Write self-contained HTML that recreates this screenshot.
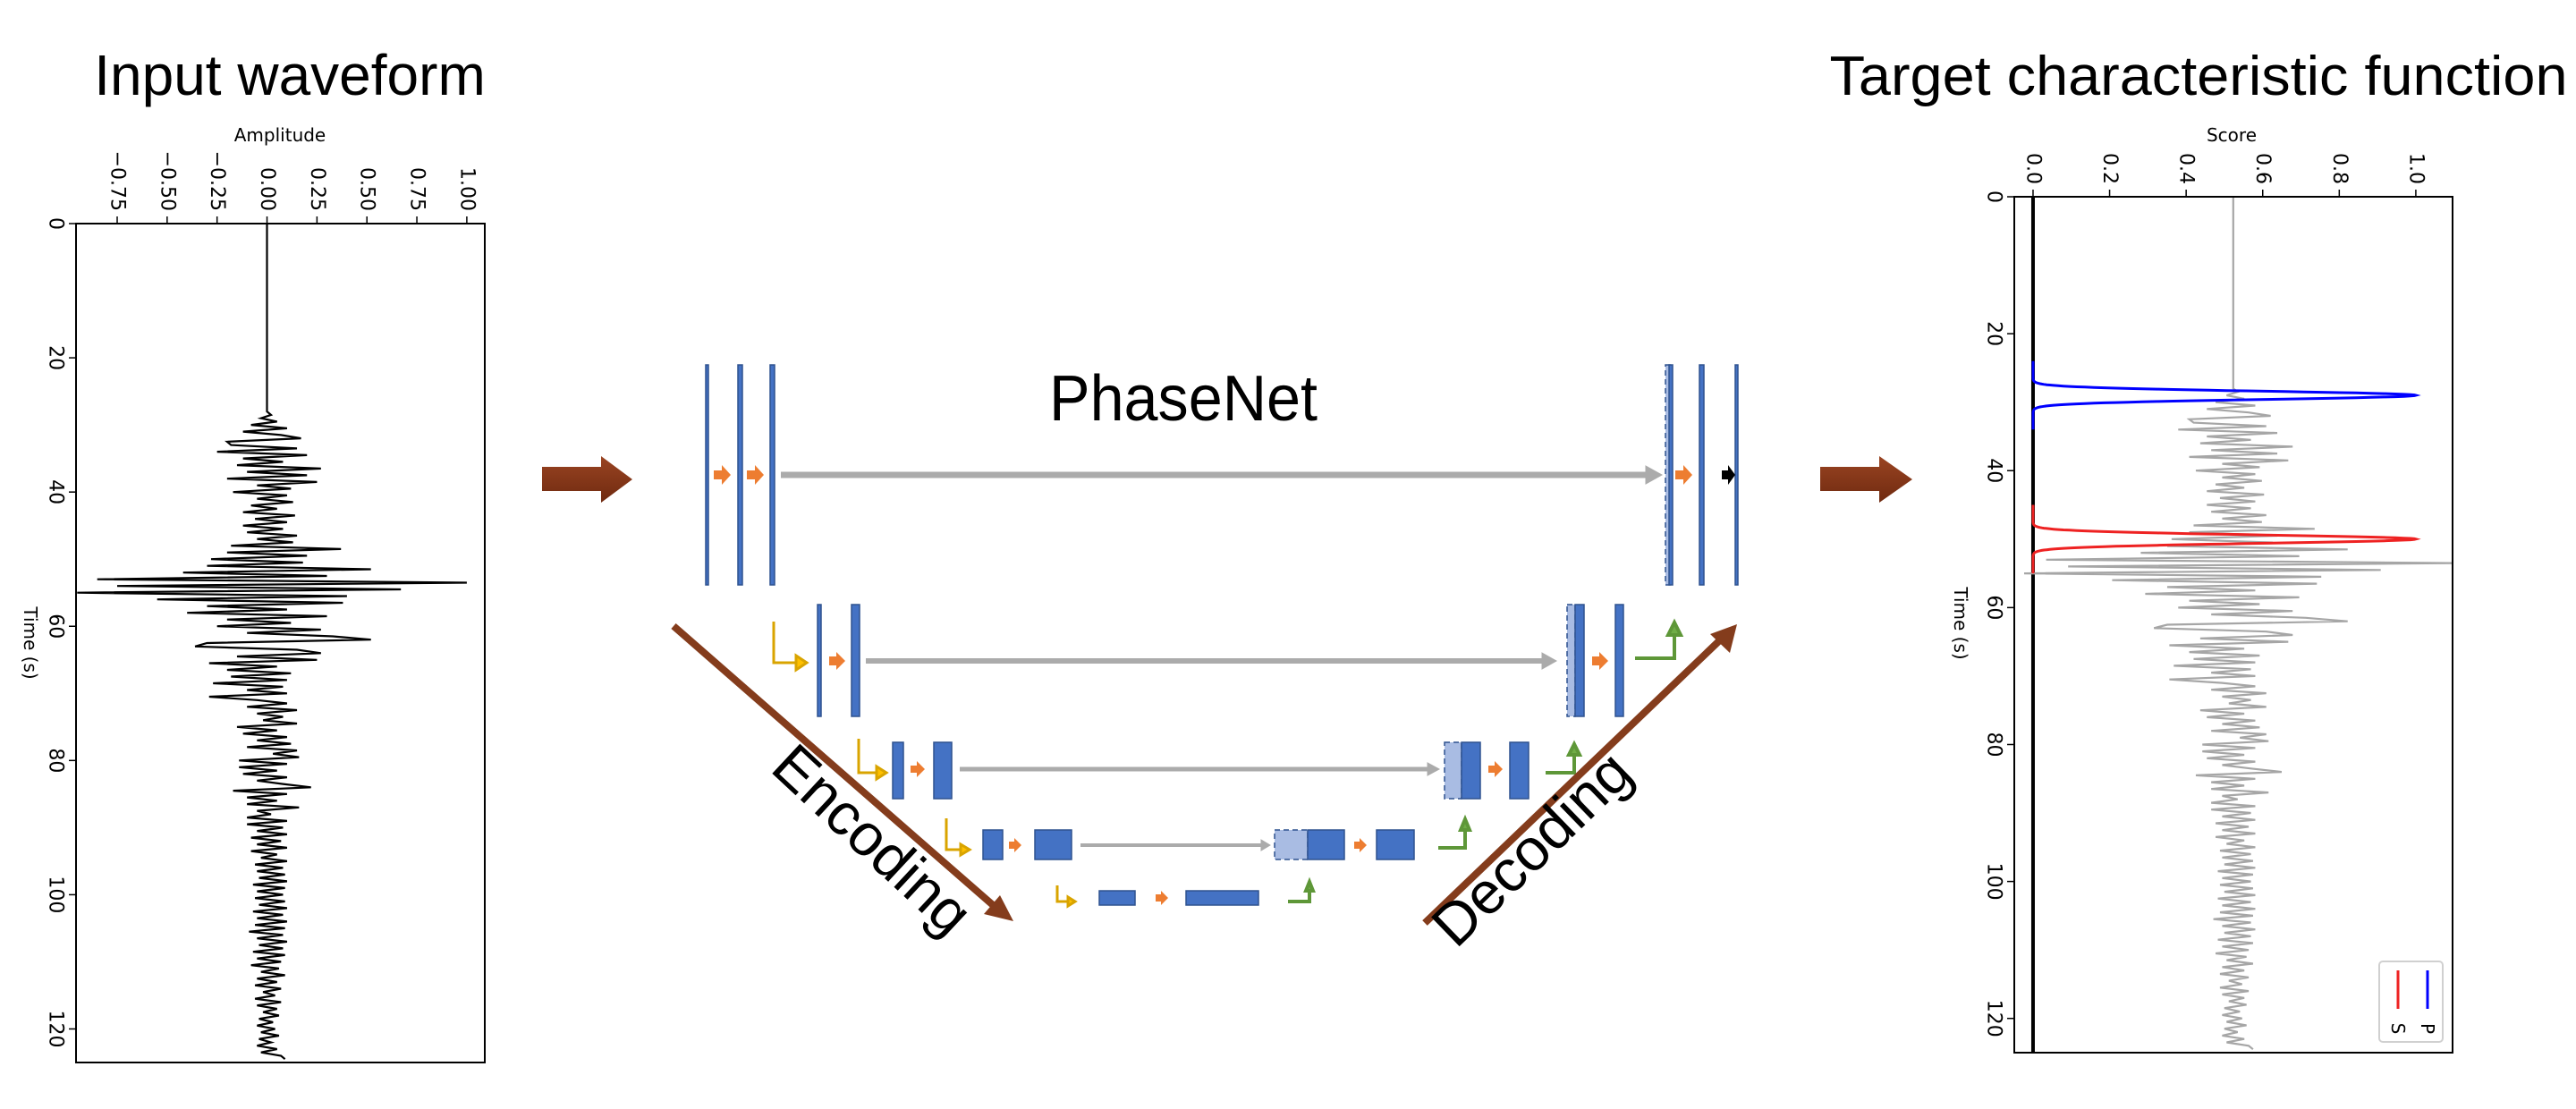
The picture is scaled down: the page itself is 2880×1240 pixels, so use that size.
<!DOCTYPE html>
<html><head><meta charset="utf-8"><style>
html,body{margin:0;padding:0;background:#fff}
svg{display:block}
text{font-family:"DejaVu Sans","Liberation Sans",sans-serif}
.t{font-family:"Liberation Sans",sans-serif}
</style></head><body>
<svg id="fig" width="2880" height="1240" viewBox="0 0 2880 1240" xmlns="http://www.w3.org/2000/svg">
<defs>
<linearGradient id="brown" x1="0" y1="0" x2="0" y2="1"><stop offset="0" stop-color="#9a4422"/><stop offset="1" stop-color="#6f2a10"/></linearGradient>
<clipPath id="clipL"><rect x="85" y="250" width="457" height="938"/></clipPath>
<clipPath id="clipR"><rect x="2252" y="220" width="490" height="957"/></clipPath>
</defs>

<text class="t" x="324" y="106" font-size="64" text-anchor="middle">Input waveform</text>
<text class="t" x="2458" y="106" font-size="62" text-anchor="middle" textLength="825" lengthAdjust="spacingAndGlyphs">Target characteristic function</text>

<g id="leftPlot"></g>
<g id="rightPlot"></g>

<!-- Big brown arrows -->
<polygon points="606,522 672,522 672,510 707,536 672,562 672,549 606,549" fill="url(#brown)"/>
<polygon points="2035,522 2101,522 2101,510 2138,536 2101,562 2101,549 2035,549" fill="url(#brown)"/>

<g id="unet">
<text class="t" x="1323" y="470" font-size="72" text-anchor="middle" textLength="300" lengthAdjust="spacingAndGlyphs">PhaseNet</text>
<!-- level 1 -->
<g fill="#4472C4" stroke="#2F528F" stroke-width="1.5">
<rect x="789" y="408" width="3" height="246"/>
<rect x="825" y="408" width="5" height="246"/>
<rect x="861" y="408" width="5" height="246"/>
<rect x="1862" y="408" width="5" height="246" fill="#A9BCE3" stroke-dasharray="6,4"/>
<rect x="1866" y="408" width="4" height="246"/>
<rect x="1900" y="408" width="5" height="246"/>
<rect x="1940" y="408" width="3" height="246"/>
</g>
<g fill="#4472C4" stroke="#2F528F" stroke-width="1.5">
<rect x="914" y="676" width="4" height="125"/>
<rect x="952" y="676" width="9" height="125"/>
<rect x="1752" y="676" width="9" height="125" fill="#A9BCE3" stroke-dasharray="6,4"/>
<rect x="1761" y="676" width="10" height="125"/>
<rect x="1806" y="676" width="9" height="125"/>
</g>
<g fill="#4472C4" stroke="#2F528F" stroke-width="1.5">
<rect x="998" y="830" width="12" height="63"/>
<rect x="1044" y="830" width="20" height="63"/>
<rect x="1615" y="830" width="19" height="63" fill="#A9BCE3" stroke-dasharray="6,4"/>
<rect x="1634" y="830" width="21" height="63"/>
<rect x="1688" y="830" width="21" height="63"/>
</g>
<g fill="#4472C4" stroke="#2F528F" stroke-width="1.5">
<rect x="1099" y="928" width="22" height="33"/>
<rect x="1157" y="928" width="41" height="33"/>
<rect x="1425" y="928" width="37" height="33" fill="#A9BCE3" stroke-dasharray="6,4"/>
<rect x="1462" y="928" width="41" height="33"/>
<rect x="1539" y="928" width="42" height="33"/>
</g>
<g fill="#4472C4" stroke="#2F528F" stroke-width="1.5">
<rect x="1229" y="996" width="40" height="16"/>
<rect x="1326" y="996" width="81" height="16"/>
</g>
<!-- skip connections -->
<g stroke="#ABABAB" fill="#ABABAB">
<line x1="873" y1="531" x2="1843" y2="531" stroke-width="7"/><polygon points="1840,521 1858,531 1840,541"/>
<line x1="968" y1="739" x2="1727" y2="739" stroke-width="6"/><polygon points="1724,730 1740,739 1724,748"/>
<line x1="1073" y1="860" x2="1598" y2="860" stroke-width="5"/><polygon points="1596,853 1609,860 1596,867"/>
<line x1="1208" y1="945" x2="1412" y2="945" stroke-width="4"/><polygon points="1410,939 1420,945 1410,951"/>
</g>
<!-- orange conv arrows -->
<g fill="#ED7D31">
<polygon points="798,526 807,526 807,520 817,531 807,542 807,536 798,536"/>
<polygon points="835,526 844,526 844,520 854,531 844,542 844,536 835,536"/>
<polygon points="1873,526 1882,526 1882,520 1892,531 1882,542 1882,536 1873,536"/>
<polygon points="927,734 935,734 935,729 945,739 935,749 935,744 927,744"/>
<polygon points="1780,734 1788,734 1788,729 1798,739 1788,749 1788,744 1780,744"/>
<polygon points="1018,856 1025,856 1025,851 1034,860 1025,869 1025,864 1018,864"/>
<polygon points="1664,856 1671,856 1671,851 1680,860 1671,869 1671,864 1664,864"/>
<polygon points="1128,941 1134,941 1134,937 1142,945 1134,953 1134,949 1128,949"/>
<polygon points="1514,941 1520,941 1520,937 1528,945 1520,953 1520,949 1514,949"/>
<polygon points="1292,1000 1298,1000 1298,996 1306,1004 1298,1012 1298,1008 1292,1008"/>
</g>
<polygon points="1925,526 1932,526 1932,520 1940,531 1932,542 1932,536 1925,536" fill="#000"/>
<!-- yellow downsample arrows -->
<g fill="none" stroke="#D9A400" stroke-width="3">
<polyline points="865,695 865,741 892,741"/><polygon points="890,733 902,741 890,749" fill="#FFC000"/>
<polyline points="960,826 960,864 982,864"/><polygon points="980,857 991,864 980,871" fill="#FFC000"/>
<polyline points="1058,915 1058,950 1076,950"/><polygon points="1074,944 1084,950 1074,956" fill="#FFC000"/>
<polyline points="1182,990 1182,1008 1196,1008"/><polygon points="1194,1003 1202,1008 1194,1013" fill="#FFC000"/>
</g>
<!-- green upsample arrows -->
<g fill="none" stroke="#5E9738" stroke-width="4">
<polyline points="1828,736 1872,736 1872,708"/><polygon points="1865,710 1872,696 1879,710" fill="#70AD47"/>
<polyline points="1728,864 1760,864 1760,842"/><polygon points="1754,844 1760,832 1766,844" fill="#70AD47"/>
<polyline points="1608,948 1638,948 1638,926"/><polygon points="1633,928 1638,916 1643,928" fill="#70AD47"/>
<polyline points="1440,1008 1464,1008 1464,994"/><polygon points="1460,996 1464,986 1468,996" fill="#70AD47"/>
</g>
<!-- encoding/decoding arrows -->
<line x1="753" y1="700" x2="1117" y2="1018" stroke="#843C1C" stroke-width="8"/>
<polygon points="1133,1030 1100,1022 1118,1001" fill="#843C1C"/>
<line x1="1593" y1="1032" x2="1930" y2="709" stroke="#843C1C" stroke-width="8"/>
<polygon points="1942,698 1934,730 1912,709" fill="#843C1C"/>
<text class="t" x="0" y="0" font-size="66" text-anchor="middle" transform="translate(960,955) rotate(43)">Encoding</text>
<text class="t" x="0" y="0" font-size="66" text-anchor="middle" transform="translate(1728,965) rotate(-44)">Decoding</text>
</g>

<script>
// ---- data ----
const flatEnd = 28;
const sampleStart = 28;
const sampleDt = 0.5;
const amplitudes = [
0,0.02,-0.03,0.05,
-0.08,0.1,-0.12,0.07,0.17,-0.2,
-0.18,0.15,-0.25,0.2,-0.12,0.08,
-0.15,0.27,-0.1,0.2,-0.2,0.25,-0.05,0.12,
-0.17,0.1,-0.05,0.13,-0.08,0.05,-0.12,0.14,
-0.06,0.1,-0.12,0.08,-0.1,0.15,-0.05,0.13,
-0.18,0.37,-0.2,0.2,-0.28,0.18,-0.3,0.52,
-0.42,0.3,-0.85,1.0,-0.75,0.67,-0.95,0.4,
-0.55,0.38,-0.3,0.1,-0.4,0.3,-0.2,0.12,
-0.25,0.27,-0.1,0.33,0.52,-0.3,-0.36,0.15,0.27,-0.15,
0.25,-0.29,0.05,-0.2,0.12,-0.18,0.1,-0.27,0.08,-0.1,
0.1,-0.29,-0.05,0.1,-0.1,0.15,-0.05,0.08,-0.02,0.15,
-0.15,0.05,-0.12,0.1,-0.05,0.12,-0.1,0.15,0.03,0.16,
-0.14,0.1,-0.14,0.05,-0.12,0.1,-0.05,0.08,0.22,-0.17,
0.1,-0.1,0.05,-0.1,0.16,-0.05,0.02,-0.1,0.1,-0.1,
0.08,-0.05,0.1,-0.08,0.07,-0.05,0.1,-0.08,0.05,-0.03,
0.1,-0.06,0.08,-0.05,0.09,-0.04,0.1,-0.07,0.09,-0.05,
0.08,-0.06,0.09,-0.04,0.1,-0.07,0.08,-0.05,0.1,-0.06,
0.09,-0.09,0.08,-0.05,0.1,-0.04,0.08,-0.07,0.09,-0.05,
0.07,-0.08,0.06,-0.03,0.09,-0.05,0.05,-0.06,0.07,-0.02,
0.04,-0.06,0.07,-0.05,0.05,-0.02,0.06,-0.04,0.03,-0.05,
0.04,-0.03,0.06,-0.04,0.02,-0.05,0.05,-0.03,0.07,0.09
];
const timeTicks = [0,20,40,60,80,100,120];
const ampTicks = [-0.75,-0.5,-0.25,0,0.25,0.5,0.75,1.0];
const ampTickLabels = ["\u22120.75","\u22120.50","\u22120.25","0.00","0.25","0.50","0.75","1.00"];
const scoreTicks = [0,0.2,0.4,0.6,0.8,1.0];
const scoreTickLabels = ["0.0","0.2","0.4","0.6","0.8","1.0"];
const pickNames = ["P","S"];
const pickTimes = [29, 50];
const pickSigma = [0.6, 0.6];
const pickColors = ["#0000ff","#ee2222"];
const grayOffset = 0.523;
const grayScale = 0.575;

const NS="http://www.w3.org/2000/svg";
function mk(tag, attrs, parent){const e=document.createElementNS(NS,tag);for(const k in attrs)e.setAttribute(k,attrs[k]);parent.appendChild(e);return e;}

// axes
const L={x0:85,x1:542,y0:250,y1:1188,tmin:0,tmax:125,amin:-0.956,amax:1.09};
const R={x0:2252,x1:2742,y0:220,y1:1177,tmin:0,tmax:125,smin:-0.049,smax:1.096};
function lty(t){return L.y0+(t-L.tmin)/(L.tmax-L.tmin)*(L.y1-L.y0);}
function lax(a){return L.x0+(a-L.amin)/(L.amax-L.amin)*(L.x1-L.x0);}
function rty(t){return R.y0+(t-R.tmin)/(R.tmax-R.tmin)*(R.y1-R.y0);}
function rsx(s){return R.x0+(s-R.smin)/(R.smax-R.smin)*(R.x1-R.x0);}

function series(){const pts=[[0,0],[flatEnd,0]];amplitudes.forEach((a,i)=>pts.push([sampleStart+i*sampleDt,a]));return pts;}

// ---- left plot ----
const lg=document.getElementById('leftPlot');
let d=series().map((p,i)=>(i?'L':'M')+lax(p[1]).toFixed(1)+','+lty(p[0]).toFixed(1)).join('');
const wave=mk('path',{d:d,fill:'none',stroke:'#000','stroke-width':2.2,'clip-path':'url(#clipL)'},lg);


const lf=mk('rect',{x:L.x0,y:L.y0,width:L.x1-L.x0,height:L.y1-L.y0,fill:'none',stroke:'#000','stroke-width':2},lg);


timeTicks.forEach(t=>{
  const y=lty(t);
  mk('line',{x1:L.x0-8,y1:y,x2:L.x0,y2:y,stroke:'#000','stroke-width':1.5},lg);
  const tx=mk('text',{x:0,y:0,'font-size':22,'text-anchor':'middle','dominant-baseline':'central',transform:`translate(62,${y}) rotate(90)`},lg);
  tx.textContent=t;
  
  
});
ampTicks.forEach((a,i)=>{
  const x=lax(a);
  mk('line',{x1:x,y1:L.y0-8,x2:x,y2:L.y0,stroke:'#000','stroke-width':1.5},lg);
  const tx=mk('text',{x:0,y:0,'font-size':22,'text-anchor':'end','dominant-baseline':'central',transform:`translate(${x},236) rotate(90)`},lg);
  tx.textContent=ampTickLabels[i];
  
  
});
let t1=mk('text',{x:313,y:158,'font-size':20,'text-anchor':'middle'},lg);t1.textContent='Amplitude';


let t2=mk('text',{x:0,y:0,'font-size':20,'text-anchor':'middle','dominant-baseline':'central',transform:'translate(34,719) rotate(90)'},lg);t2.textContent='Time (s)';



// ---- right plot ----
const rg=document.getElementById('rightPlot');
const zl=mk('line',{x1:rsx(0),y1:R.y0,x2:rsx(0),y2:R.y1,stroke:'#000','stroke-width':4},rg);


d=series().map((p,i)=>(i?'L':'M')+rsx(grayOffset+p[1]*grayScale).toFixed(1)+','+rty(p[0]).toFixed(1)).join('');
const gw=mk('path',{d:d,fill:'none',stroke:'#a6a6a6','stroke-width':2.2,'clip-path':'url(#clipR)'},rg);


pickTimes.forEach((pt,k)=>{
  let s='';
  for(let t=pt-5;t<=pt+5;t+=0.05){const v=Math.exp(-((t-pt)**2)/(2*pickSigma[k]**2));s+=(s?'L':'M')+rsx(v).toFixed(1)+','+rty(t).toFixed(1);}
  const c=mk('path',{d:s,fill:'none',stroke:pickColors[k],'stroke-width':3,'clip-path':'url(#clipR)'},rg);
  
  
});
const rf=mk('rect',{x:R.x0,y:R.y0,width:R.x1-R.x0,height:R.y1-R.y0,fill:'none',stroke:'#000','stroke-width':2},rg);


timeTicks.forEach(t=>{
  const y=rty(t);
  mk('line',{x1:R.x0-8,y1:y,x2:R.x0,y2:y,stroke:'#000','stroke-width':1.5},rg);
  const tx=mk('text',{x:0,y:0,'font-size':22,'text-anchor':'middle','dominant-baseline':'central',transform:`translate(2229,${y}) rotate(90)`},rg);
  tx.textContent=t;
  
  
});
scoreTicks.forEach((s,i)=>{
  const x=rsx(s);
  mk('line',{x1:x,y1:R.y0-8,x2:x,y2:R.y0,stroke:'#000','stroke-width':1.5},rg);
  const tx=mk('text',{x:0,y:0,'font-size':22,'text-anchor':'end','dominant-baseline':'central',transform:`translate(${x},206) rotate(90)`},rg);
  tx.textContent=scoreTickLabels[i];
  
  
});
let t3=mk('text',{x:2495,y:158,'font-size':20,'text-anchor':'middle'},rg);t3.textContent='Score';


let t4=mk('text',{x:0,y:0,'font-size':20,'text-anchor':'middle','dominant-baseline':'central',transform:'translate(2192,697) rotate(90)'},rg);t4.textContent='Time (s)';


// legend
const leg=mk('g',{},rg);


mk('rect',{x:2660,y:1075,width:71,height:90,rx:4,fill:'#fff',stroke:'#d0d0d0','stroke-width':2},leg);
pickNames.forEach((n,k)=>{
  const x=2714-k*33;
  const ln=mk('line',{x1:x,y1:1085,x2:x,y2:1128,stroke:pickColors[k],'stroke-width':3},leg);
  
  
  const tx=mk('text',{x:0,y:0,'font-size':20,'text-anchor':'middle','dominant-baseline':'central',transform:`translate(${x},1150) rotate(90)`},leg);
  tx.textContent=n;
  
  
});
</script>
</svg>
</body></html>
